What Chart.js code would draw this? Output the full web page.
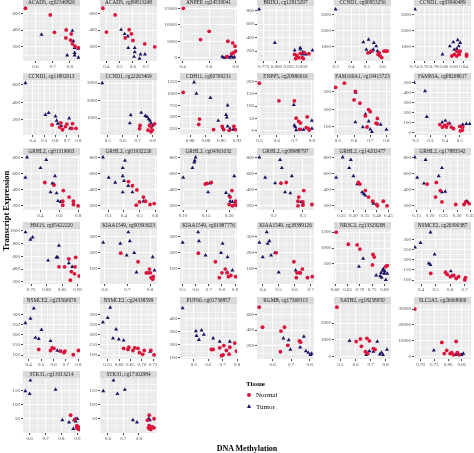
<!DOCTYPE html>
<html>
<head>
<meta charset="utf-8">
<script src="https://cdn.jsdelivr.net/npm/chart.js@4.4.0/dist/chart.umd.min.js"></script>
<style>
  body { margin: 0; background: #fff; width: 474px; height: 453px; overflow: hidden; position: relative; font-family: "Liberation Serif", serif; }
  canvas { position: absolute; }
  .strip { position: absolute; background: #D9D9D9; color: #1A1A1A; font-size: 5.3px; line-height: 7px; height: 7px; text-align: center; white-space: nowrap; overflow: hidden; z-index: 2; filter: grayscale(1); }
  .lab { position: absolute; color: #000; white-space: nowrap; filter: grayscale(1); }
</style>
</head>
<body>
<script>
// panel titles (facet strips)
const titles = [
  "ACADS, cg02340826", "ACADS, cg09813248", "ANPEP, cg24530041", "BRIX1, cg12915297", "CCND1, cg00953256", "CCND1, cg03040489",
  "CCND1, cg11802013", "CCND1, cg22263469", "CDH11, cg00769231", "ENPP5, cg20986616", "FAM160A1, cg19413723", "FAM83A, cg08268017",
  "GRHL2, cg01319063", "GRHL2, cg01932226", "GRHL2, cg04361032", "GRHL2, cg08988797", "GRHL2, cg14202477", "GRHL2, cg17883542",
  "HM13, cg05422220", "KIAA1549, cg00393623", "KIAA1549, cg01987776", "KIAA1549, cg18389126", "NR3C2, cg13329208", "NSMCE2, cg20390387",
  "NSMCE2, cg23560676", "NSMCE2, cg24338599", "PUF60, cg01730857", "RGMB, cg17369313", "SATB2, cg18258950", "SLC2A5, cg26668000",
  "STK31, cg13313214", "STK31, cg17102984"
];

// x (methylation) range and tick labels per panel
const xLims = [
  [0.528, 0.858], [0.351, 0.783], [0.38, 0.81], [0.762, 0.874], [0.29, 0.653], [0.739, 0.855],
  [0.315, 0.815], [0.448, 0.83], [0.847, 0.92], [0.487, 0.812], [0.476, 0.828], [0.189, 0.576],
  [0.214, 0.82], [0.246, 0.612], [0.093, 0.217], [0.143, 0.338], [0.217, 0.461], [0.14, 0.352],
  [0.724, 0.908], [0.58, 0.83], [0.48, 0.915], [0.364, 0.721], [0.595, 0.826], [0.35, 0.745],
  [0.354, 0.813], [0.516, 0.767], [0.403, 0.80], [0.515, 0.824], [0.457, 0.835], [0.676, 0.883],
  [0.558, 0.917], [0.55, 0.917]
];
const xTickLabels = [
  ["0.6","0.7","0.8"], ["0.4","0.5","0.6","0.7"], ["0.4","0.6","0.8"], ["0.775","0.800","0.825","0.850"], ["0.3","0.4","0.5","0.6"], ["0.74","0.76","0.78","0.80","0.82","0.84"],
  ["0.4","0.5","0.6","0.7","0.8"], ["0.5","0.6","0.7","0.8"], ["0.86","0.88","0.90","0.92"], ["0.5","0.6","0.7","0.8"], ["0.5","0.6","0.7","0.8"], ["0.2","0.3","0.4","0.5"],
  ["0.4","0.6","0.8"], ["0.3","0.4","0.5","0.6"], ["0.10","0.15","0.20"], ["0.2","0.3"], ["0.25","0.30","0.35","0.40","0.45"], ["0.15","0.20","0.25","0.30","0.35"],
  ["0.75","0.80","0.85","0.90"], ["0.6","0.7","0.8"], ["0.5","0.6","0.7","0.8","0.9"], ["0.4","0.5","0.6","0.7"], ["0.60","0.65","0.70","0.75","0.80"], ["0.4","0.5","0.6","0.7"],
  ["0.4","0.5","0.6","0.7","0.8"], ["0.55","0.60","0.65","0.70","0.75"], ["0.5","0.6","0.7","0.8"], ["0.6","0.7","0.8"], ["0.5","0.6","0.7","0.8"], ["0.70","0.75","0.80","0.85"],
  ["0.6","0.7","0.8","0.9"], ["0.6","0.7","0.8"]
];

// y (expression) range and tick labels per panel
const yLims = [
  [31, 686], [31, 686], [-1000, 15700], [53, 868], [83, 3560], [83, 3560],
  [25, 655], [36, 3180], [115, 1290], [-17, 205], [55, 364], [-22, 525],
  [148, 828], [148, 828], [148, 828], [148, 828], [148, 828], [148, 828],
  [165, 1030], [4, 350], [4, 350], [4, 350], [-130, 1600], [81, 352],
  [81, 352], [81, 352], [90, 512], [29, 735], [-130, 3130], [-1400, 33200],
  [-4, 197], [-4, 197]
];
const yTickLabels = [
  ["200","400","600"], ["200","400","600"], ["0","5000","10000","15000"], ["200","400","600","800"], ["1000","2000","3000"], ["1000","2000","3000"],
  ["200","400","600"], ["1000","2000","3000"], ["250","500","750","1000","1250"], ["0","50","100","150","200"], ["100","200","300"], ["0","100","200","300","400","500"],
  ["200","400","600","800"], ["200","400","600","800"], ["200","400","600","800"], ["200","400","600","800"], ["200","400","600","800"], ["200","400","600","800"],
  ["200","400","600","800","1000"], ["100","200","300"], ["100","200","300"], ["100","200","300"], ["500","1000","1500"], ["100","150","200","250","300"],
  ["100","150","200","250","300"], ["100","150","200","250","300"], ["100","200","300","400"], ["200","400","600"], ["0","1000","2000"], ["0","10000","20000","30000"],
  ["50","100","150"], ["50","100","150"]
];

// [methylation, expression] per sample
const normalPoints = [
  [[0.542,659],[0.686,580],[0.71,373],[0.778,400],[0.807,353],[0.776,306],[0.804,278],[0.814,235],[0.829,208],[0.849,188]],
  [[0.373,659],[0.466,580],[0.4,376],[0.572,404],[0.589,353],[0.542,306],[0.601,275],[0.69,235],[0.766,200]],
  [[0.405,15000],[0.6,8000],[0.535,5500],[0.741,5000],[0.778,4500],[0.795,3500],[0.785,1500],[0.77,1200],[0.8,2000],[0.733,300]],
  [[0.836,151],[0.84,137],[0.844,102],[0.851,102],[0.847,166],[0.855,176],[0.864,161],[0.853,88],[0.838,88]],
  [[0.506,600],[0.527,710],[0.578,600],[0.584,400],[0.594,300],[0.618,710],[0.629,710],[0.608,710],[0.571,500]],
  [[0.826,710],[0.83,640],[0.833,710],[0.821,500],[0.826,400],[0.831,500],[0.846,500],[0.846,400],[0.816,400]],
  [[0.57,140],[0.647,165],[0.637,115],[0.662,85],[0.687,120],[0.75,155],[0.742,100],[0.78,100],[0.7,150]],
  [[0.717,580],[0.713,400],[0.78,580],[0.791,490],[0.798,310],[0.813,670],[0.77,310],[0.79,220]],
  [[0.851,1025],[0.872,455],[0.871,340],[0.901,300],[0.903,230],[0.91,215],[0.916,300],[0.918,230],[0.89,230]],
  [[0.5,192],[0.612,121],[0.7,121],[0.71,51],[0.725,38],[0.735,31],[0.773,56],[0.768,13],[0.78,9],[0.785,3],[0.73,6]],
  [[0.486,323],[0.54,346],[0.608,300],[0.6,252],[0.636,234],[0.69,198],[0.67,162],[0.7,186],[0.744,148],[0.736,121],[0.68,100],[0.744,118]],
  [[0.364,82],[0.382,57],[0.398,73],[0.42,89],[0.409,57],[0.442,57],[0.458,41],[0.52,57],[0.516,25],[0.504,19],[0.5,63]],
  [[0.446,488],[0.543,456],[0.643,388],[0.704,308],[0.636,256],[0.636,208],[0.75,256],[0.75,216],[0.8,200]],
  [[0.429,500],[0.454,448],[0.483,396],[0.479,208],[0.525,308],[0.538,256],[0.567,216],[0.594,228],[0.5,248]],
  [[0.148,468],[0.151,476],[0.161,488],[0.206,388],[0.202,308],[0.213,216],[0.214,256],[0.207,200],[0.215,208],[0.2,216]],
  [[0.225,480],[0.243,488],[0.303,388],[0.286,308],[0.283,256],[0.3,248],[0.283,200],[0.3,208],[0.331,216]],
  [[0.321,488],[0.328,468],[0.351,388],[0.365,308],[0.383,256],[0.4,216],[0.403,200],[0.428,256],[0.444,200]],
  [[0.189,468],[0.223,488],[0.22,308],[0.238,388],[0.244,248],[0.295,216],[0.326,216],[0.332,248],[0.345,228]],
  [[0.84,435],[0.858,435],[0.872,560],[0.894,585],[0.88,360],[0.892,435],[0.89,325],[0.905,290],[0.877,225]],
  [[0.671,198],[0.747,144],[0.783,74],[0.79,74],[0.797,98],[0.801,74],[0.804,44],[0.811,34],[0.814,50]],
  [[0.62,198],[0.75,144],[0.78,44],[0.8,74],[0.825,98],[0.838,74],[0.85,50],[0.868,58],[0.905,50]],
  [[0.484,200],[0.595,144],[0.614,74],[0.631,74],[0.61,44],[0.648,98],[0.68,44],[0.71,50],[0.635,74]],
  [[0.604,1500],[0.653,1120],[0.689,1100],[0.7,970],[0.753,800],[0.758,720],[0.751,470],[0.805,420],[0.811,450]],
  [[0.466,133],[0.568,139],[0.58,128],[0.625,123],[0.659,117],[0.643,108],[0.702,101],[0.707,112],[0.602,117]],
  [[0.481,128],[0.576,123],[0.589,136],[0.603,133],[0.657,120],[0.684,112],[0.692,120],[0.759,102],[0.8,123]],
  [[0.62,133],[0.639,128],[0.643,139],[0.661,123],[0.669,136],[0.683,133],[0.69,112],[0.711,123],[0.74,123],[0.754,101],[0.704,104]],
  [[0.622,163],[0.634,163],[0.68,176],[0.692,115],[0.703,122],[0.708,193],[0.726,156],[0.75,180],[0.745,127],[0.784,212],[0.796,151]],
  [[0.527,694],[0.545,437],[0.645,388],[0.664,437],[0.682,204],[0.642,122],[0.745,261],[0.751,245]],
  [[0.476,2940],[0.604,906],[0.632,1057],[0.639,623],[0.675,1094],[0.692,943],[0.718,490],[0.729,434],[0.68,190],[0.665,302]],
  [[0.679,30000],[0.777,9000],[0.829,9600],[0.786,2000],[0.795,4000],[0.807,2000],[0.813,2600],[0.819,1200],[0.84,1200],[0.833,2600]],
  [[0.858,61],[0.884,46],[0.897,23],[0.906,18],[0.906,11],[0.912,15],[0.897,15],[0.912,9]],
  [[0.867,61],[0.856,43],[0.898,48],[0.867,23],[0.871,11],[0.888,18],[0.898,15],[0.877,9],[0.862,15]]
];
const tumorPoints = [
  [[0.635,345],[0.814,392],[0.82,267],[0.827,188],[0.847,180],[0.827,129],[0.827,98],[0.784,98],[0.849,71]],
  [[0.511,404],[0.538,353],[0.562,325],[0.565,188],[0.614,188],[0.614,137],[0.658,110],[0.692,110],[0.609,82],[0.651,59]],
  [[0.698,300],[0.71,0],[0.722,0],[0.741,300],[0.754,0],[0.766,500],[0.778,0],[0.79,200]],
  [[0.766,820],[0.797,322],[0.847,249],[0.847,224],[0.836,210],[0.871,210],[0.851,151],[0.858,151],[0.852,185]],
  [[0.3,3350],[0.51,1440],[0.477,1270],[0.544,1230],[0.559,1020],[0.496,810],[0.533,710],[0.567,710],[0.516,600],[0.54,810]],
  [[0.741,3350],[0.797,500],[0.812,1020],[0.819,1270],[0.828,1400],[0.833,1230],[0.83,1020],[0.826,850],[0.821,810]],
  [[0.336,620],[0.512,255],[0.54,280],[0.6,240],[0.61,190],[0.62,155],[0.65,130],[0.72,215],[0.727,100]],
  [[0.463,3000],[0.654,1180],[0.648,710],[0.724,1310],[0.763,1070],[0.774,945],[0.783,855],[0.789,710],[0.8,580],[0.752,1130]],
  [[0.865,1240],[0.868,1000],[0.886,910],[0.908,750],[0.906,545],[0.907,490],[0.896,420],[0.902,270],[0.908,300],[0.911,250],[0.915,230]],
  [[0.697,105],[0.7,22],[0.706,15],[0.738,5],[0.753,5],[0.8,41],[0.8,9],[0.71,3]],
  [[0.61,293],[0.608,127],[0.654,100],[0.67,171],[0.69,132],[0.7,87],[0.71,73],[0.764,114],[0.8,86]],
  [[0.19,500],[0.264,415],[0.276,158],[0.38,104],[0.402,120],[0.431,95],[0.52,82],[0.544,89],[0.567,89],[0.51,63]],
  [[0.257,800],[0.4,668],[0.461,768],[0.239,548],[0.554,568],[0.525,476],[0.507,368],[0.571,356],[0.586,260],[0.614,248],[0.543,468]],
  [[0.265,800],[0.302,548],[0.344,488],[0.406,760],[0.392,668],[0.392,568],[0.392,368],[0.427,448],[0.454,368],[0.525,256],[0.4,508]],
  [[0.1,548],[0.12,668],[0.124,736],[0.125,760],[0.127,800],[0.157,476],[0.154,368],[0.193,360],[0.2,328],[0.202,256],[0.211,568],[0.207,248]],
  [[0.151,800],[0.222,768],[0.228,668],[0.171,548],[0.205,480],[0.262,568],[0.239,368],[0.257,356],[0.294,248],[0.3,228]],
  [[0.226,548],[0.254,800],[0.289,768],[0.282,668],[0.3,568],[0.317,468],[0.337,368],[0.344,348],[0.351,328],[0.383,248],[0.386,228]],
  [[0.143,800],[0.152,548],[0.183,768],[0.177,476],[0.232,568],[0.244,668],[0.244,368],[0.256,376],[0.335,256],[0.339,248]],
  [[0.732,980],[0.748,865],[0.755,900],[0.84,770],[0.805,535],[0.832,585],[0.836,585],[0.872,495],[0.883,435]],
  [[0.594,264],[0.669,258],[0.704,330],[0.711,274],[0.697,184],[0.73,200],[0.74,78],[0.811,174],[0.819,90]],
  [[0.5,264],[0.618,330],[0.625,274],[0.675,184],[0.805,258],[0.793,200],[0.843,174],[0.843,78],[0.88,90]],
  [[0.379,264],[0.425,330],[0.431,258],[0.442,274],[0.4,174],[0.452,184],[0.477,200],[0.5,78],[0.606,90]],
  [[0.713,670],[0.696,420],[0.766,140],[0.788,70],[0.786,220],[0.792,290],[0.795,350],[0.801,270],[0.799,200],[0.805,0],[0.811,200],[0.782,120]],
  [[0.357,262],[0.395,284],[0.464,336],[0.493,227],[0.452,183],[0.464,175],[0.605,144],[0.611,120]],
  [[0.373,258],[0.414,280],[0.441,331],[0.454,186],[0.481,180],[0.503,225],[0.576,170],[0.63,123],[0.651,120]],
  [[0.529,262],[0.55,284],[0.561,334],[0.573,183],[0.587,227],[0.599,178],[0.62,173],[0.736,117]],
  [[0.421,480],[0.514,305],[0.518,268],[0.535,237],[0.553,310],[0.569,278],[0.634,249],[0.68,224],[0.75,224]],
  [[0.658,294],[0.687,273],[0.696,151],[0.769,318],[0.749,180],[0.78,131],[0.793,110],[0.804,82],[0.811,98]],
  [[0.56,943],[0.68,189],[0.692,340],[0.718,302],[0.744,906],[0.761,150],[0.772,245],[0.782,113],[0.808,434],[0.671,113]],
  [[0.748,4000],[0.825,1200],[0.831,1600],[0.843,1200],[0.849,1200],[0.855,2000],[0.837,2000]],
  [[0.573,149],[0.604,188],[0.6,139],[0.763,155],[0.806,43],[0.848,35],[0.879,43],[0.89,48],[0.9,48],[0.875,11],[0.89,39]],
  [[0.571,149],[0.637,188],[0.662,139],[0.71,155],[0.762,43],[0.788,35],[0.867,45],[0.862,48],[0.871,43]]
];

const colLeft = [23, 100, 180, 257, 334, 414];
const rowTop = [6, 80, 155, 229, 304, 378];
const PW = 57, PH = 55;
const YW = 26, XH = 11, PADR = 9, PADT = 4;
const NORMAL_COL = "#DC143C", TUMOR_COL = "#1B1464";

// panel background like ggplot's theme_grey
const panelBg = {
  id: "panelBg",
  beforeDraw(chart) {
    const a = chart.chartArea, c = chart.ctx;
    c.save();
    c.fillStyle = "#EBEBEB";
    c.fillRect(a.left, a.top, a.right - a.left, a.bottom - a.top);
    c.restore();
  }
};

// majors + halfway minors, inside the limits
function allTicks(labels, lim) {
  const v = labels.map(parseFloat);
  const step = v[1] - v[0];
  const out = [];
  for (let i = -1; i < v.length; i++) {
    const base = i < 0 ? v[0] - step : v[i];
    if (i >= 0) out.push(base);
    out.push(base + step / 2);
  }
  return out.filter(t => t >= lim[0] && t <= lim[1]);
}

function axis(labels, lim, isX) {
  const majors = labels.map(parseFloat);
  const isMajor = val => majors.some(m => Math.abs(m - val) < 1e-9);
  return {
    type: "linear",
    min: lim[0],
    max: lim[1],
    afterBuildTicks: scale => { scale.ticks = allTicks(labels, lim).map(t => ({ value: t })); },
    afterFit: scale => { if (isX) scale.height = XH; else scale.width = YW; },
    border: { display: false },
    grid: {
      color: "#FFFFFF",
      lineWidth: ctx => (ctx.tick && isMajor(ctx.tick.value)) ? 0.9 : 0.45,
      tickColor: ctx => (ctx.tick && isMajor(ctx.tick.value)) ? "#333333" : "rgba(0,0,0,0)",
      tickLength: 2,
      drawTicks: true
    },
    ticks: {
      autoSkip: false,
      maxRotation: 0,
      padding: 1,
      color: "#4D4D4D",
      font: { family: "Liberation Serif", size: 5 },
      callback: val => {
        const i = majors.findIndex(m => Math.abs(m - val) < 1e-9);
        return i >= 0 ? labels[i] : "";
      }
    }
  };
}

titles.forEach((title, i) => {
  const left = colLeft[i % 6], top = rowTop[Math.floor(i / 6)];

  const strip = document.createElement("div");
  strip.className = "strip";
  strip.style.left = left + "px";
  strip.style.top = (top - 7) + "px";
  strip.style.width = PW + "px";
  strip.textContent = title;
  document.body.appendChild(strip);

  const cv = document.createElement("canvas");
  cv.width = YW + PW + PADR;
  cv.height = PADT + PH + XH;
  cv.style.left = (left - YW) + "px";
  cv.style.top = (top - PADT) + "px";
  document.body.appendChild(cv);

  new Chart(cv.getContext("2d"), {
    type: "scatter",
    data: {
      datasets: [
        {
          label: "Normal",
          data: normalPoints[i].map(p => ({ x: p[0], y: p[1] })),
          pointStyle: "circle",
          pointRadius: 1.9,
          backgroundColor: NORMAL_COL,
          borderWidth: 0
        },
        {
          label: "Tumor",
          data: tumorPoints[i].map(p => ({ x: p[0], y: p[1] })),
          pointStyle: "triangle",
          pointRadius: 2.3,
          backgroundColor: TUMOR_COL,
          borderWidth: 0
        }
      ]
    },
    options: {
      responsive: false,
      animation: false,
      devicePixelRatio: 1,
      layout: { padding: { left: 0, right: PADR, top: PADT, bottom: 0 } },
      plugins: { legend: { display: false }, tooltip: { enabled: false } },
      scales: {
        x: axis(xTickLabels[i], xLims[i], true),
        y: axis(yTickLabels[i], yLims[i], false)
      }
    },
    plugins: [panelBg]
  });
});

function addLabel(text, css) {
  const d = document.createElement("div");
  d.className = "lab";
  d.textContent = text;
  Object.assign(d.style, css);
  document.body.appendChild(d);
  return d;
}

// axis titles
addLabel("Transcript Expression", {
  left: "-46px", top: "206px", width: "104px", textAlign: "center",
  fontSize: "8.5px", fontWeight: "bold", transform: "rotate(-90deg)", lineHeight: "10px"
});
addLabel("DNA Methylation", {
  left: "197px", top: "444px", width: "100px", textAlign: "center",
  fontSize: "8px", fontWeight: "bold", lineHeight: "10px"
});

// legend
addLabel("Tissue", { left: "246px", top: "380px", fontSize: "7px", fontWeight: "bold", lineHeight: "8px" });
addLabel("Normal", { left: "256px", top: "391px", fontSize: "7px", lineHeight: "8px" });
addLabel("Tumor", { left: "256px", top: "403px", fontSize: "7px", lineHeight: "8px" });
const dot = document.createElement("div");
Object.assign(dot.style, { position: "absolute", left: "247px", top: "393px", width: "4px", height: "4px", borderRadius: "50%", background: NORMAL_COL });
document.body.appendChild(dot);
const tri = document.createElement("div");
Object.assign(tri.style, { position: "absolute", left: "246.5px", top: "404px", width: "0", height: "0",
  borderLeft: "2.5px solid transparent", borderRight: "2.5px solid transparent", borderBottom: "4.5px solid " + TUMOR_COL });
document.body.appendChild(tri);
</script>
</body>
</html>
